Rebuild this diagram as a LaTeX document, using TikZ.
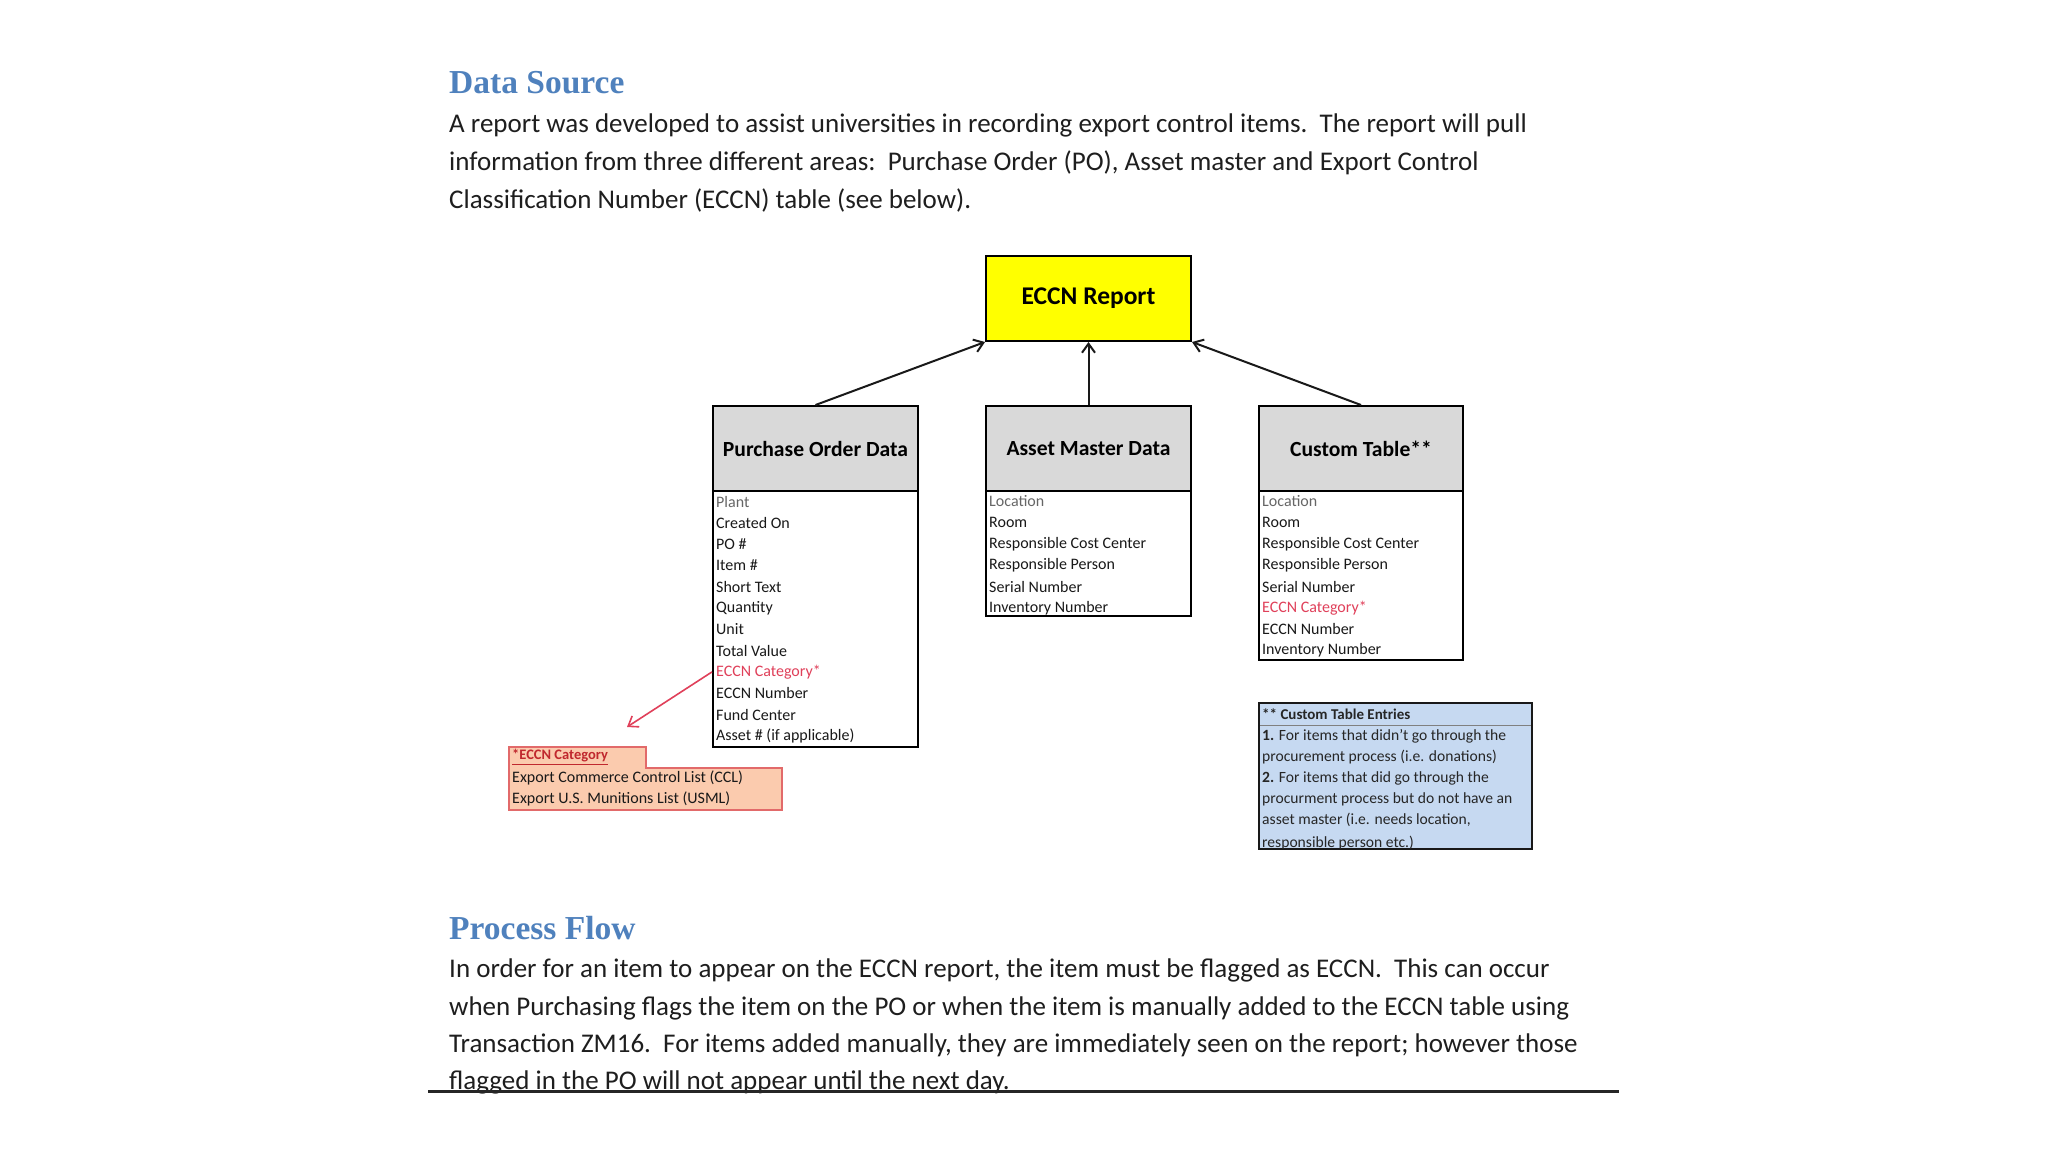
\documentclass[tikz,border=0pt]{standalone}
\usepackage{fontspec}
\setmainfont{Carlito}
\newfontfamily\headfont{Liberation Serif}
\usetikzlibrary{arrows.meta}
\definecolor{headblue}{HTML}{4F81BD}
\definecolor{bodytext}{HTML}{1E1E1E}
\definecolor{hdrgrey}{HTML}{D9D9D9}
\definecolor{eccnyellow}{HTML}{FFFF00}
\definecolor{catred}{HTML}{E0405A}
\definecolor{catdark}{HTML}{C0282E}
\definecolor{peach}{HTML}{FBCBAE}
\definecolor{peachline}{HTML}{E26A6A}
\definecolor{noteblue}{HTML}{C6D9F1}
\tikzset{
  heading/.style={anchor=base west, inner sep=0, font=\headfont\bfseries\fontsize{33.5}{40}\selectfont, text=headblue},
  body/.style={anchor=base west, inner sep=0, font=\fontsize{27}{32}\selectfont, text=bodytext},
  boxbase/.style={draw=black, line width=2pt, inner sep=0, minimum width=205pt},
  hdrbox/.style={boxbase, fill=hdrgrey, minimum height=85pt, font=\bfseries\fontsize{21.6}{26}\selectfont},
  reportbox/.style={boxbase, fill=eccnyellow, minimum height=85pt, font=\bfseries\fontsize{25.5}{30}\selectfont},
  listbox/.style={boxbase, fill=white},
  rowtxt/.style={anchor=west, inner sep=0, font=\fontsize{16}{19}\selectfont, text=black!90},
  redrow/.style={rowtxt, text=catred},
  flow/.style={-{Straight Barb[length=9pt,width=13pt,line width=2pt]}, line width=2pt, draw=black!90},
  redflow/.style={-{Straight Barb[length=9pt,width=13pt,line width=1.6pt]}, line width=1.6pt, draw=catred},
  cattxt/.style={anchor=west, inner sep=0, font=\fontsize{16}{19}\selectfont, text=black!90},
  notetxt/.style={anchor=west, inner sep=0, font=\fontsize{15.6}{18}\selectfont, text=black!85},
}
\begin{document}
\begin{tikzpicture}[x=1pt,y=-1pt]
\useasboundingbox[fill=white] (0,0) rectangle (2048,1152);

% ---- Data Source ----
\node[heading] (h1) at (449,93) {Data Source};
\node[body] (b1) at (449,132) {A report was developed to assist universities in recording export control items.\ \ The report will pull};
\node[body] (b2) at (449,170) {information from three different areas:\ \ Purchase Order (PO), Asset master and Export Control};
\node[body] (b3) at (449,208) {Classification Number (ECCN) table (see below).};

% ---- Diagram ----
\node[reportbox] (eccn) at (1088.5,298.5) {ECCN Report};

\node[hdrbox] (po) at (815.5,448.5) {Purchase Order Data};
\node[hdrbox] (am) at (1088.5,448.5) {Asset Master Data};
\node[hdrbox, minimum width=204pt] (ct) at (1361,448.5) {Custom Table**};

\node[listbox, minimum height=256pt] (polist) at (815.5,619) {};
\node[listbox, minimum height=125pt] (amlist) at (1088.5,553.5) {};
\node[listbox, minimum width=204pt, minimum height=169pt] (ctlist) at (1361,575.5) {};

\draw[flow] (po.north) -- (eccn.south west);
\draw[flow] (am.north) -- (eccn.south);
\draw[flow] (ct.north) -- (eccn.south east);

% PO rows
\node[rowtxt, text=black!60] (po1) at (716,501.5) {Plant};
\node[rowtxt] (po2) at (716,522.8) {Created On};
\node[rowtxt] (po3) at (716,544.1) {PO \#};
\node[rowtxt] (po4) at (716,565.4) {Item \#};
\node[rowtxt] (po5) at (716,586.7) {Short Text};
\node[rowtxt] (po6) at (716,608.0) {Quantity};
\node[rowtxt] (po7) at (716,629.3) {Unit};
\node[rowtxt] (po8) at (716,650.6) {Total Value};
\node[redrow] (po9) at (716,671.9) {ECCN Category*};
\node[rowtxt] (po10) at (716,693.2) {ECCN Number};
\node[rowtxt] (po11) at (716,714.5) {Fund Center};
\node[rowtxt] (po12) at (716,735.8) {Asset \# (if applicable)};

% Asset master rows
\node[rowtxt, text=black!60] (am1) at (989,501.5) {Location};
\node[rowtxt] (am2) at (989,522.8) {Room};
\node[rowtxt] (am3) at (989,544.1) {Responsible Cost Center};
\node[rowtxt] (am4) at (989,565.4) {Responsible Person};
\node[rowtxt] (am5) at (989,586.7) {Serial Number};
\node[rowtxt] (am6) at (989,608.0) {Inventory Number};

% Custom table rows
\node[rowtxt, text=black!60] (ct1) at (1262,501.5) {Location};
\node[rowtxt] (ct2) at (1262,522.8) {Room};
\node[rowtxt] (ct3) at (1262,544.1) {Responsible Cost Center};
\node[rowtxt] (ct4) at (1262,565.4) {Responsible Person};
\node[rowtxt] (ct5) at (1262,586.7) {Serial Number};
\node[redrow] (ct6) at (1262,608.0) {ECCN Category*};
\node[rowtxt] (ct7) at (1262,629.3) {ECCN Number};
\node[rowtxt] (ct8) at (1262,650.6) {Inventory Number};

% ECCN category note
\draw[fill=peach, draw=peachline, line width=1.3pt]
  (509,747) -- (646,747) -- (646,768) -- (782,768) -- (782,810) -- (509,810) -- cycle;
\coordinate (catend) at (627,727);
\draw[redflow] (polist.west |- po9.west) -- (catend);
\node[cattxt, text=catdark, font=\bfseries\fontsize{14.5}{17}\selectfont] (cat1) at (512,757) {\underline{*ECCN Category}};
\node[cattxt] (cat2) at (512,778) {Export Commerce Control List (CCL)};
\node[cattxt] (cat3) at (512,799) {Export U.S. Munitions List (USML)};

% Custom table entries note
\node[draw=black!90, line width=2pt, fill=noteblue, inner sep=0, minimum width=273pt, minimum height=146pt] (note) at (1395.5,776) {};
\draw[black!50, line width=1pt] (1260,725) -- (1531,725);
\begin{scope}
\clip (1260,704) rectangle (1531,848);
\node[notetxt, font=\bfseries\fontsize{15}{18}\selectfont] (n0) at (1262,714) {** Custom Table Entries};
\node[notetxt] (n1) at (1262,736) {\textbf{1.} For items that didn't go through the};
\node[notetxt] (n2) at (1262,757) {procurement process (i.e. donations)};
\node[notetxt] (n3) at (1262,778) {\textbf{2.} For items that did go through the};
\node[notetxt] (n4) at (1262,799) {procurment process but do not have an};
\node[notetxt] (n5) at (1262,820) {asset master (i.e. needs location,};
\node[notetxt] (n6) at (1262,843) {responsible person etc.)};
\end{scope}

% ---- Process Flow ----
\node[heading] (h2) at (449,939) {Process Flow};
\node[body] (p1) at (449,977) {In order for an item to appear on the ECCN report, the item must be flagged as ECCN.\ \ This can occur};
\node[body] (p2) at (449,1015) {when Purchasing flags the item on the PO or when the item is manually added to the ECCN table using};
\node[body] (p3) at (449,1052) {Transaction ZM16.\ \ For items added manually, they are immediately seen on the report; however those};
\node[body] (p4) at (449,1089) {flagged in the PO will not appear until the next day.};
\coordinate (ruleL) at (428,1091);
\coordinate (ruleR) at (1619,1091);
\draw[line width=3pt, black!85] (ruleL) -- (ruleR);
\end{tikzpicture}
\end{document}
